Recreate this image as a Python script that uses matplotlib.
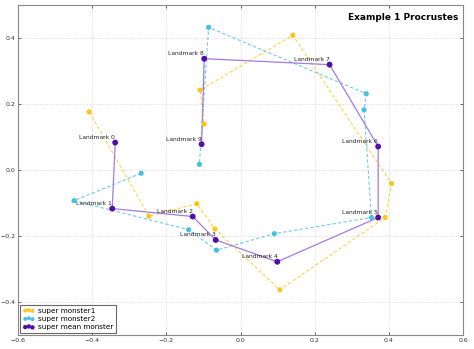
import matplotlib
matplotlib.use("Agg")
import matplotlib.pyplot as plt
import numpy as np

# Procrustes landmarks (x, y)
monster1_x = [-0.408, -0.247, -0.118, -0.069, 0.106, 0.390, 0.407, 0.141, -0.109, -0.098]
monster1_y = [0.176, -0.140, -0.102, -0.179, -0.363, -0.144, -0.041, 0.408, 0.242, 0.139]

monster2_x = [-0.268, -0.449, -0.140, -0.065, 0.091, 0.353, 0.333, 0.339, -0.086, -0.111]
monster2_y = [-0.010, -0.093, -0.181, -0.243, -0.193, -0.144, 0.182, 0.231, 0.432, 0.017]

mean_x = [-0.338, -0.346, -0.129, -0.067, 0.099, 0.371, 0.371, 0.240, -0.098, -0.105]
mean_y = [0.083, -0.117, -0.141, -0.212, -0.278, -0.144, 0.071, 0.319, 0.337, 0.078]

labels = ["Landmark %d" % i for i in range(len(mean_x))]

yellow = "#ffc41a"
cyan = "#45c0e0"
purple = "#5010a8"
lavender = "#a47ae6"

fig = plt.figure(figsize=(4.74, 3.49), dpi=100)
ax = fig.add_axes([0.038, 0.040, 0.939, 0.946])

# Connecting lines
ax.plot(monster1_x, monster1_y, linestyle=(0, (3, 2)), color=yellow, linewidth=0.8, alpha=0.8)
ax.plot(monster2_x, monster2_y, linestyle=(0, (3, 2)), color=cyan, linewidth=0.8, alpha=0.8)
ax.plot(mean_x, mean_y, linestyle="-", color=lavender, linewidth=0.9)

# Landmark points
ax.scatter(monster1_x, monster1_y, s=14, color=yellow, edgecolors="none",
           label="super monster1", zorder=3)
ax.scatter(monster2_x, monster2_y, s=14, color=cyan, edgecolors="none",
           label="super monster2", zorder=3)
ax.scatter(mean_x, mean_y, s=18, color=purple, edgecolors="none",
           label="super mean monster", zorder=4)

for x, y, lab in zip(mean_x, mean_y, labels):
    ax.text(x, y + 0.008, lab, fontsize=4.3, ha="right", va="bottom", color="#222222")

ax.text(0.99, 0.975, "Example 1 Procrustes", transform=ax.transAxes,
        ha="right", va="top", fontsize=6.5, fontweight="bold")

ax.set_xlim(-0.6, 0.6)
ax.set_ylim(-0.5, 0.5)
ax.set_xticks(np.arange(-0.6, 0.61, 0.2))
ax.set_yticks(np.arange(-0.4, 0.41, 0.2))
ax.set_xticklabels(["\u22120.6", "\u22120.4", "\u22120.2", "0.0", "0.2", "0.4", "0.6"])
ax.set_yticklabels(["\u22120.4", "\u22120.2", "0.0", "0.2", "0.4"])
ax.tick_params(labelsize=4.5, direction="in", length=2.5, width=0.5,
               top=True, right=True, pad=2, colors="#333333")
ax.grid(True, linestyle=":", color="#d0d0d0", linewidth=0.6)
for sp in ax.spines.values():
    sp.set_color("#888888")
    sp.set_linewidth(0.8)

leg = ax.legend(loc="lower left", scatterpoints=3, fontsize=5.2, fancybox=False,
                borderpad=0.4, labelspacing=0.3, handletextpad=0.4,
                handlelength=1.6, borderaxespad=0.3, markerscale=0.75)
leg.get_frame().set_edgecolor("#444444")
leg.get_frame().set_linewidth(0.8)

fig.savefig("out.png", dpi=100, facecolor="white")
